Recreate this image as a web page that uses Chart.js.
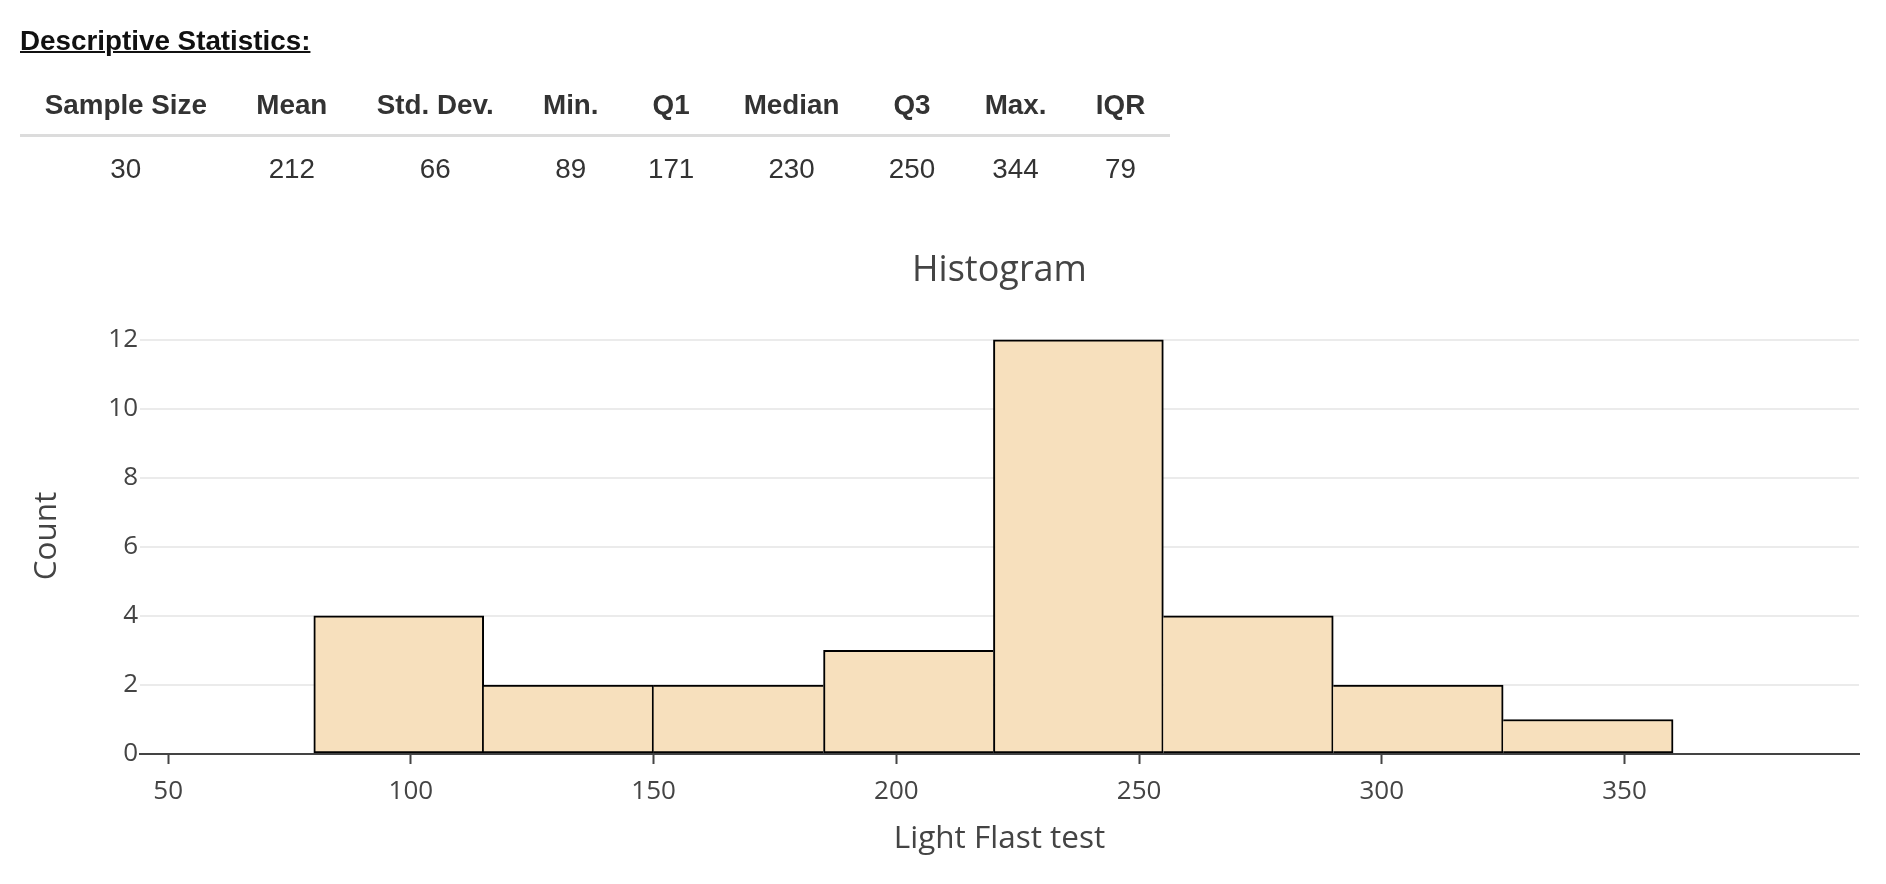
<!DOCTYPE html>
<html><head><meta charset="utf-8">
<script src="https://cdn.jsdelivr.net/npm/chart.js@4.4.1/dist/chart.umd.min.js"></script>
<style>
html,body{margin:0;padding:0;background:#fff;width:1886px;height:884px;overflow:hidden;}
#wrap{position:relative;width:1886px;height:884px;}
#chart{position:absolute;left:0;top:0;}
#stTitle{position:absolute;left:20px;top:27px;font:bold 27.8px/27.8px 'Liberation Sans',Arial,sans-serif;color:#111;text-decoration:underline;text-decoration-thickness:2px;text-underline-offset:1px;white-space:nowrap;}
#stats{position:absolute;left:20px;top:90.8px;border-collapse:separate;border-spacing:0;font-family:'Liberation Sans',Arial,sans-serif;font-size:27.8px;line-height:27.8px;color:#333;}
#stats th{padding:0 24.7px 15.7px;border-bottom:3px solid #dcdcdc;font-weight:bold;white-space:nowrap;}
#stats td{padding:17.3px 24.7px 0;text-align:center;}
</style></head>
<body><div id="wrap">
<canvas id="chart" width="1886" height="884"></canvas>
<div id="stTitle">Descriptive Statistics:</div>
<table id="stats"><thead><tr id="hrow"></tr></thead><tbody><tr id="vrow"></tr></tbody></table>
</div>
<script>
// ---- data ----
const statLabels = ['Sample Size', 'Mean', 'Std. Dev.', 'Min.', 'Q1', 'Median', 'Q3', 'Max.', 'IQR'];
const statValues = [30, 212, 66, 89, 171, 230, 250, 344, 79];
const binEdges = [80, 115, 150, 185, 220, 255, 290, 325, 360];
const counts = [4, 2, 2, 3, 12, 4, 2, 1];
const xTickValues = [50, 100, 150, 200, 250, 300, 350];
const yTickValues = [0, 2, 4, 6, 8, 10, 12];
const xRange = [44.2, 398.3];
const yRange = [0, 12.63];
const chartTitle = 'Histogram';
const xTitle = 'Light Flast test';
const yTitle = 'Count';

// ---- table ----
const hrow = document.getElementById('hrow');
const vrow = document.getElementById('vrow');
statLabels.forEach((l, i) => {
  const th = document.createElement('th'); th.textContent = l; hrow.appendChild(th);
  const td = document.createElement('td'); td.textContent = String(statValues[i]); vrow.appendChild(td);
});

// ---- chart ----
const points = counts.map((c, i) => ({ x: (binEdges[i] + binEdges[i + 1]) / 2, y: c }));

function borderW(ctx) {
  const i = ctx.dataIndex, n = counts.length;
  const left = (i === 0) ? 2 : (counts[i] > counts[i - 1] ? 2 : 0);
  const right = (i === n - 1) ? 2 : (counts[i] >= counts[i + 1] ? 2 : 0);
  return { top: 2, bottom: 2, left: left, right: right };
}

Chart.defaults.font.family = "'Open Sans', sans-serif";
Chart.defaults.color = '#444';

new Chart(document.getElementById('chart'), {
  type: 'bar',
  data: {
    datasets: [{
      data: points,
      backgroundColor: 'rgb(247,224,189)',
      borderColor: '#000',
      borderWidth: borderW,
      borderSkipped: false,
      barPercentage: 1,
      categoryPercentage: 1
    }]
  },
  options: {
    responsive: false,
    animation: false,
    layout: { padding: { left: 0, right: 27, top: 0, bottom: 0 } },
    plugins: {
      legend: { display: false },
      tooltip: { enabled: false },
      title: {
        display: true, text: chartTitle, fullSize: false,
        font: { size: 36, weight: 'normal' }, color: '#444',
        padding: { top: 248.8, bottom: 26 }
      }
    },
    scales: {
      x: {
        type: 'linear', min: xRange[0], max: xRange[1], bounds: 'data', offset: false,
        grid: { display: true, offset: false, drawOnChartArea: false, drawTicks: true, tickLength: 10, tickColor: '#444', tickWidth: 2 },
        border: { display: true, color: '#444', width: 2 },
        ticks: { font: { size: 26 }, color: '#444', padding: 12, maxRotation: 0, autoSkip: false },
        afterBuildTicks: s => { s.ticks = xTickValues.map(v => ({ value: v })); },
        title: { display: true, text: xTitle, font: { size: 31.5 }, color: '#444', padding: { top: 0, bottom: 25.7 } },
        afterFit: s => { s.height = 130; }
      },
      y: {
        min: yRange[0], max: yRange[1], bounds: 'data',
        grid: { color: '#ebebeb', lineWidth: 2, drawTicks: false },
        border: { display: false },
        ticks: { font: { size: 26 }, color: '#444', padding: 2 },
        afterBuildTicks: s => { s.ticks = yTickValues.map(v => ({ value: v })); },
        title: { display: true, text: yTitle, font: { size: 31.5 }, color: '#444', padding: { top: 27.9, bottom: 0 } },
        afterFit: s => { s.width = 140; }
      }
    }
  }
});
</script>
</body></html>
